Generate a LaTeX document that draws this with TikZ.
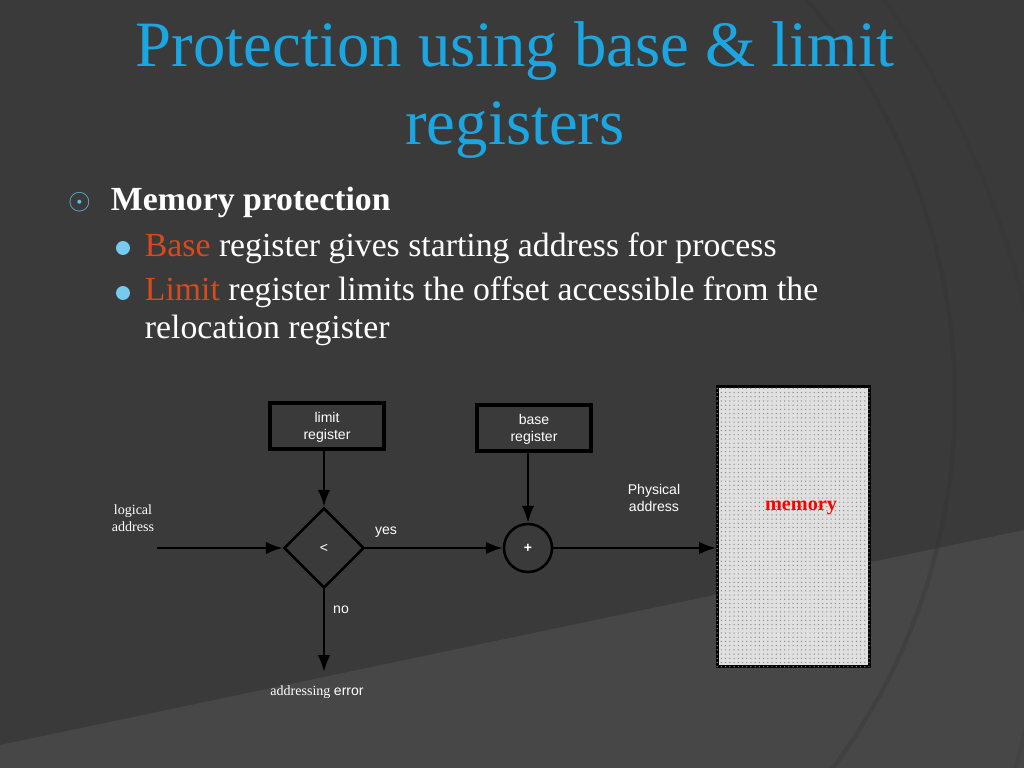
\documentclass[tikz,border=0pt]{standalone}
\usepackage{fontspec}
\setmainfont{Liberation Serif}
\newfontfamily\diagfont{Liberation Sans}
\usetikzlibrary{arrows.meta,positioning,shapes.geometric,patterns}
\definecolor{slidebg}{HTML}{3A3A3A}
\definecolor{slidelight}{HTML}{474747}
\definecolor{titleblue}{HTML}{1BA6E2}
\definecolor{keyred}{HTML}{D8491E}
\tikzset{
	reg/.style={draw=black,line width=2.4pt,fill=slidebg,text=white,font=\diagfont,
		align=center,minimum width=2.85cm,minimum height=1.15cm,inner sep=1pt,text depth=0pt},
	flow/.style={draw=black,line width=1.8pt,-{Latex[length=12pt,width=9pt]}},
	lbl/.style={text=white,font=\diagfont,align=center,inner sep=0pt},
	slabel/.style={text=white,font=\normalsize,align=center,inner sep=0pt}
}
\begin{document}
\begin{tikzpicture}[x=0.025cm,y=-0.025cm]
	\useasboundingbox (0,0) rectangle (1024,768);
	% background
	\fill[slidebg] (0,0) rectangle (1024,768);
	\fill[slidelight] (1024,530) -- (1024,768) -- (0,768) -- (0,745) -- cycle;
	\begin{scope}
		\clip (0,0) rectangle (1024,768);
		\draw[black!80,line width=3pt,opacity=.35] (340,400) circle[radius=615];
		\draw[black!80,line width=3pt,opacity=.2] (150,520) circle[radius=900];
	\end{scope}
	% title and bullets
	\node[text=titleblue,font=\fontsize{46}{56}\selectfont,align=center] (title) at (515,90)
		{Protection using base \& limit\\registers};
	\node[text=titleblue!70!white,font=\huge] (b0) at (80,202) {$\odot$};
	\node[text=white,font=\fontsize{24}{28}\bfseries,anchor=west] (t0) at (106,202) {Memory protection};
	\node[circle,fill=titleblue!60!white,inner sep=3.5pt] (b1) at (123,248) {};
	\node[circle,fill=titleblue!60!white,inner sep=3.5pt] (b2) at (123,293) {};
	\node[text=white,font=\fontsize{24}{27}\selectfont,anchor=west] (t1) at (140,248)
		{\textcolor{keyred}{Base} register gives starting address for process};
	\node[text=white,font=\fontsize{24}{27}\selectfont,anchor=west,align=left] (t2) at (140,311)
		{\textcolor{keyred}{Limit} register limits the offset accessible from the\\relocation register};
	% diagram
	\node[reg] (limit) at (327,426) {limit\\register};
	\node[reg] (base) at (534,428) {base\\register};
	\node[diamond,draw=black,line width=1.8pt,fill=slidebg,minimum width=2cm,minimum height=2cm,
		text=white,font=\diagfont] (cmp) at (324,548) {<};
	\node[circle,draw=black,line width=1.8pt,minimum size=1.2cm,text=white,
		font=\diagfont\bfseries] (add) at (528,548) {+};
	\node[draw=black,line width=2pt,fill=white!88!black,minimum width=3.8cm,minimum height=7cm,
		anchor=north west] (mem) at (716,385) {};
	\fill[pattern=dots,pattern color=black!45] (mem.south west) rectangle (mem.north east);
	\node[text=red,font=\Large\bfseries] (memtxt) at (801,508) {memory};
	\coordinate (in) at (157,548);
	\coordinate (err) at (324,672);
	\draw[flow] (in) -- (cmp.west);
	\draw[flow] (cmp.north |- limit.south) -- (cmp.north);
	\draw[flow] (add.north |- base.south) -- (add.north);
	\draw[flow] (cmp.east) -- (add.west);
	\draw[flow] (add.east) -- (add.east -| mem.west);
	\draw[flow] (cmp.south) -- (err);
	\node[slabel] (logical) at (133,518) {logical\\address};
	\node[lbl] (yes) at (386,532) {yes};
	\node[lbl] (no) at (341,610) {no};
	\node[lbl] (phys) at (654,498) {Physical\\address};
	\node[text=white,font=\normalsize,inner sep=0pt] (error) at (317,692)
		{addressing {\diagfont error}};
\end{tikzpicture}
\end{document}
